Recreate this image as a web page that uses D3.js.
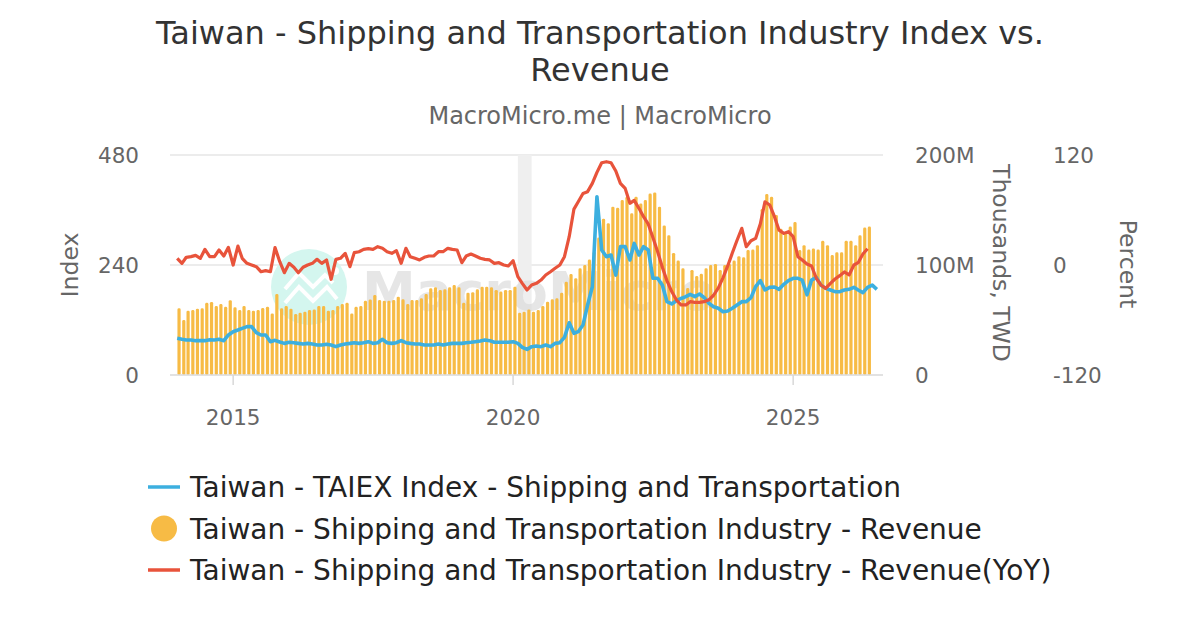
<!DOCTYPE html>
<html>
<head>
<meta charset="utf-8">
<script src="https://cdnjs.cloudflare.com/ajax/libs/d3/7.8.5/d3.min.js"></script>
<style>
  body { margin: 0; background: #fff; }
  svg { font-family: "DejaVu Sans", sans-serif; }
</style>
</head>
<body>
<svg id="chart" width="1200" height="630"></svg>
<script>
// monthly data starting Jan 2014
const startYear = 2014;

// revenue, millions of TWD (bars)
const revenue = [
  60.6, 50, 58.5, 59, 60.3, 60.6, 65.7, 66.4, 62.7, 64.5, 62, 68,
  61.5, 59, 62.7, 59, 58.5, 59, 60.9, 62, 56, 73.6, 60.6, 62.7,
  60.3, 55.5, 56.7, 57.6, 59, 59.6, 62.7, 62.7, 58.5, 59, 62.7, 64.5,
  65.7, 56, 62, 62.7, 67.5, 68.7, 72.7, 68.2, 67.6, 67.6, 68.2, 71.2,
  68.8, 64.5, 68.2, 68.2, 69.7, 73.6, 78.8, 79.7, 77.3, 77.9, 79.7, 81.8,
  79.7, 65.7, 74.8, 75.3, 77.9, 80.3, 80.3, 79.7, 77.3, 75.8, 77.3, 77.3,
  80.3, 56.7, 57.6, 59.6, 57.6, 59, 62.7, 66.7, 68.8, 69.7, 74.8, 84.8,
  91.8, 88, 97, 100, 105, 112, 125, 142, 138, 153, 152, 159,
  162, 147, 162, 156, 159, 165, 166, 153, 136, 127, 111, 104,
  97, 79, 95.5, 90, 92, 97, 100, 101, 95.5, 100, 101, 104,
  108, 107, 113.6, 114, 118, 151, 164.5, 162, 145.5, 133, 130, 135,
  139, 113.6, 118, 114, 115, 114, 122, 118, 109, 111.5, 111.5, 122,
  122, 118, 127, 134, 135
];

// revenue YoY, percent (red line)
const revenueYoY = [
  7.3, 1.8, 8.4, 9.1, 10.5, 7.3, 17.1, 9.1, 9.1, 16.4, 9.8, 19.3,
  0, 20.7, 7.3, 1.8, 0, -1.8, -7.3, -6.2, -7.3, 19, 3.6, -8.4,
  1.8, -2.5, -8.4, -2.5, 0, 1.8, 6.2, 1.8, 5.5, -15.6, 6.2, 7.3,
  12.7, -1.8, 13.5, 14.5, 17.1, 17.8, 17.1, 20, 18.2, 14.5, 12.7, 15.6,
  1.8, 18.2, 9.1, 7.3, 5.5, 8.4, 9.8, 9.8, 14.5, 14.5, 18.2, 17.1,
  16.4, 2.5, 9.8, 12, 9.8, 7.3, 6.2, 5.5, 1.8, 2.5, 0, -1.1,
  4.7, -12.7, -20, -27.3, -21.8, -20, -16.4, -10.9, -7.3, -3.6, 0, 9.1,
  30.9, 61, 69, 78, 80, 89, 101, 111.6, 112.7, 111.6, 102.5, 89,
  83.6, 67.3, 70.5, 61.8, 52.7, 44.5, 30, 14.5, -2.7, -17.3, -29, -38,
  -43.6, -43.6, -40, -40.7, -40.7, -40, -38, -33, -25, -14, -1, 13,
  27, 40, 20, 26.5, 29, 45, 69, 65.5, 52.7, 38, 34.5, 36.4,
  30.9, 9.1, 5.5, 1.1, -1.1, -14.5, -21.8, -25.5, -20, -15.3, -11.6, -7.6,
  -10.9, 0, 2.5, 12, 17.8
];

// TAIEX shipping & transportation index (blue line)
const taiex = [
  80, 77.8, 76.4, 76.4, 74.9, 74.9, 74.9, 77, 76.4, 77.8, 74.9, 87.3,
  94.5, 98.2, 101.8, 105.5, 105.5, 92.4, 87.3, 87.3, 72.7, 75.6, 72, 69,
  71.3, 70.5, 69, 67.6, 69, 67.6, 65.5, 65.5, 66.9, 65.5, 61.8, 65.5,
  67.6, 69, 70.5, 69, 70.5, 72.7, 69, 70.5, 77.8, 70.5, 69, 70.5,
  74.9, 70.5, 69, 67.6, 67.6, 65.5, 65.5, 65.5, 67.6, 65.5, 67.6, 69,
  69, 69, 70.5, 71.3, 72.7, 74.2, 76.4, 74.9, 71.3, 71.3, 71.3, 71.3,
  72.7, 69, 60.4, 56, 61.8, 63.3, 61.8, 65.5, 61.8, 69, 70.5, 82.2,
  114, 91, 94.5, 109, 152.7, 192.7, 389, 272.7, 258, 261.8, 218, 280,
  280, 251, 287, 261.8, 280, 272.7, 211, 211, 196, 160, 155, 162,
  167, 171, 176, 171, 176.7, 168.7, 156.4, 149, 145.5, 138, 139.6, 145.5,
  152.7, 160, 160, 168.7, 192.7, 205.8, 185.5, 191.3, 192, 187, 197.8, 205.8,
  211, 211, 207, 175, 207, 213, 196, 189, 185.5, 181.8, 181.8, 185.5,
  187, 191.3, 185.5, 179.6, 191.3, 196, 187
];

const xTickYears = [2015, 2020, 2025];
const indexTicks = [0, 240, 480];
const revenueTicks = [0, 100, 200];
const percentTicks = [-120, 0, 120];
const recession = [new Date(2020, 1, 1), new Date(2020, 4, 1)];

const legendItems = [
  {label: "Taiwan - TAIEX Index - Shipping and Transportation", type: "line", color: "#3cafdf"},
  {label: "Taiwan - Shipping and Transportation Industry - Revenue", type: "dot", color: "#f7bb45"},
  {label: "Taiwan - Shipping and Transportation Industry - Revenue(YoY)", type: "line", color: "#e8533b"}
];

const plot = {left: 170, right: 883, top: 155, bottom: 375};

const svg = d3.select("#chart");

let x = d3.scaleTime()
  .domain([new Date(2013, 10, 15), new Date(2026, 7, 10)])
  .range([plot.left, plot.right]);
let yIndex = d3.scaleLinear().domain([0, 480]).range([plot.bottom, plot.top]);
let yRev = d3.scaleLinear().domain([0, 200]).range([plot.bottom, plot.top]);
let yPct = d3.scaleLinear().domain([-120, 120]).range([plot.bottom, plot.top]);

// titles
svg.append("text").attr("x", 600).attr("y", 44).attr("text-anchor", "middle")
  .attr("font-size", 32).attr("fill", "#333")
  .text("Taiwan - Shipping and Transportation Industry Index vs.");
svg.append("text").attr("x", 600).attr("y", 81).attr("text-anchor", "middle")
  .attr("font-size", 32).attr("fill", "#333")
  .text("Revenue");
svg.append("text").attr("x", 600).attr("y", 124).attr("text-anchor", "middle")
  .attr("font-size", 24).attr("fill", "#666")
  .text("MacroMicro.me | MacroMicro");

// grid
svg.append("g").selectAll("line").data(indexTicks.slice(1)).join("line")
  .attr("x1", plot.left).attr("x2", plot.right)
  .attr("y1", d => yIndex(d)).attr("y2", d => yIndex(d))
  .attr("stroke", "#e6e6e6").attr("stroke-width", 1.5);

// recession band
svg.append("rect")
  .attr("x", x(recession[0])).attr("width", x(recession[1]) - x(recession[0]))
  .attr("y", plot.top).attr("height", plot.bottom - plot.top)
  .attr("fill", "#efefef");

// watermark
let wm = svg.append("g").attr("transform", "translate(309,287)");
wm.append("circle").attr("r", 38).attr("fill", "#d4f6ef");
wm.append("polyline").attr("points", "-24,2 -10,-14 4,0 16,-12 24,-4")
  .attr("fill", "none").attr("stroke", "#fff").attr("stroke-width", 4);
wm.append("polyline").attr("points", "-24,16 -10,0 4,14 18,0 28,12")
  .attr("fill", "none").attr("stroke", "#fff").attr("stroke-width", 4);
wm.append("circle").attr("cx", 26).attr("cy", -16).attr("r", 4).attr("fill", "#fff");
svg.append("text").attr("x", 362).attr("y", 310)
  .attr("font-size", 54).attr("font-weight", "bold")
  .attr("fill", "#dcdcdc").attr("opacity", 0.7)
  .text("MacroMicro");

// bars
svg.append("g").selectAll("rect").data(revenue).join("rect")
  .attr("x", (d, i) => x(new Date(startYear, i, 13)) - 1.6)
  .attr("width", 3.2)
  .attr("y", d => yRev(d))
  .attr("height", d => yRev(0) - yRev(d))
  .attr("rx", 1.4)
  .attr("fill", "#f7bb45");

// x axis
svg.append("line").attr("x1", plot.left).attr("x2", plot.right)
  .attr("y1", plot.bottom).attr("y2", plot.bottom)
  .attr("stroke", "#d8d8d8").attr("stroke-width", 1.5);
let xt = svg.append("g").selectAll("g").data(xTickYears).join("g")
  .attr("transform", d => `translate(${x(new Date(d, 0, 1))},0)`);
xt.append("line").attr("y1", plot.bottom).attr("y2", plot.bottom + 10)
  .attr("stroke", "#d8d8d8").attr("stroke-width", 1.5);
xt.append("text").attr("y", 425).attr("text-anchor", "middle")
  .attr("font-size", 21.5).attr("fill", "#666").text(d => d);

// index line
let lineIndex = d3.line()
  .x((d, i) => x(new Date(startYear, i, 1)))
  .y(d => yIndex(d));
svg.append("path").datum(taiex)
  .attr("d", lineIndex)
  .attr("fill", "none").attr("stroke", "#3cafdf")
  .attr("stroke-width", 3.6).attr("stroke-linejoin", "round");

// yoy line
let linePct = d3.line()
  .x((d, i) => x(new Date(startYear, i, 1)))
  .y(d => yPct(d));
svg.append("path").datum(revenueYoY)
  .attr("d", linePct)
  .attr("fill", "none").attr("stroke", "#e8533b")
  .attr("stroke-width", 3.2).attr("stroke-linejoin", "round");

// y axes labels
svg.append("g").selectAll("text").data(indexTicks).join("text")
  .attr("x", 139).attr("y", d => yIndex(d) + 7.5)
  .attr("text-anchor", "end").attr("font-size", 21.5).attr("fill", "#666")
  .text(d => d);
svg.append("g").selectAll("text").data(revenueTicks).join("text")
  .attr("x", 915).attr("y", d => yRev(d) + 7.5)
  .attr("font-size", 21.5).attr("fill", "#666")
  .text(d => d === 0 ? "0" : d + "M");
svg.append("g").selectAll("text").data(percentTicks).join("text")
  .attr("x", 1053).attr("y", d => yPct(d) + 7.5)
  .attr("font-size", 21.5).attr("fill", "#666")
  .text(d => d);

svg.append("text").attr("transform", "translate(70,265) rotate(-90)")
  .attr("text-anchor", "middle").attr("dy", "0.35em")
  .attr("font-size", 23.5).attr("fill", "#666").text("Index");
svg.append("text").attr("transform", "translate(1001,263) rotate(90)")
  .attr("text-anchor", "middle").attr("dy", "0.35em")
  .attr("font-size", 23.5).attr("fill", "#666").text("Thousands, TWD");
svg.append("text").attr("transform", "translate(1128,264) rotate(90)")
  .attr("text-anchor", "middle").attr("dy", "0.35em")
  .attr("font-size", 23.5).attr("fill", "#666").text("Percent");

// legend
let lg = svg.append("g").selectAll("g").data(legendItems).join("g")
  .attr("transform", (d, i) => `translate(0,${487 + i * 41.5})`);
lg.filter(d => d.type === "line").append("line")
  .attr("x1", 148).attr("x2", 180).attr("stroke", d => d.color).attr("stroke-width", 3.5);
lg.filter(d => d.type === "dot").append("circle")
  .attr("cx", 164).attr("r", 13).attr("fill", d => d.color);
lg.append("text").attr("x", 190).attr("y", 10)
  .attr("font-size", 28).attr("fill", "#222").text(d => d.label);
</script>
</body>
</html>
